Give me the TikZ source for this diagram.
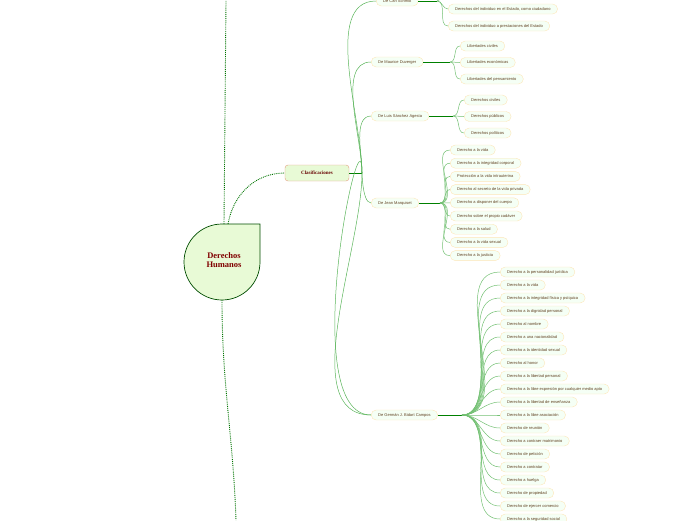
\documentclass[tikz,border=0pt]{standalone}
\usepackage{fontspec}
\setmainfont{Liberation Sans}
\newfontfamily\headfont{Liberation Serif}
\begin{document}
\begin{tikzpicture}[x=1pt,y=-1pt,
  leaf/.style={draw=yellow!30!orange!25, fill=green!4, rounded corners=5pt, anchor=west,
     minimum height=10pt, inner xsep=7pt, inner ysep=0pt, text=brown!50!black,
     font=\fontsize{4}{4.5}\selectfont},
  mid/.style={leaf},
  lk/.style={draw=green!55!black!55, line width=0.5pt},
  tk/.style={draw=green!50!black, line width=1pt}]
\useasboundingbox (0,0) rectangle (696,520);
\definecolor{cfill}{HTML}{E8FAD6}
% central
\path[draw=green!30!black, fill=cfill, line width=0.7pt]
  (222,224) -- (260,224) -- (260,262) arc(0:270:38) -- cycle;
\node[font=\headfont\bfseries\fontsize{8.5}{9.5}\selectfont, text=red!50!black, align=center] (c) at (224,260) {Derechos\\Humanos};
\coordinate (ct) at (224,224);
\coordinate (cb) at (222,300);
\coordinate (topend) at (226,0);
\coordinate (botend) at (236,520);
\draw[green!45!black, densely dotted, line width=0.9pt] (ct) -- (topend);
\draw[green!45!black, densely dotted, line width=0.9pt] (cb) to[out=-90,in=92] (botend);
\node[draw=brown!70!red!60, fill=cfill, rounded corners=3pt, minimum width=64pt, minimum height=16pt,
  font=\headfont\bfseries\fontsize{5}{6}\selectfont, text=red!40!black, inner xsep=4pt] (cl) at (317,173) {Clasificaciones};
\draw[green!45!black, densely dotted, line width=0.9pt] (228,224) to[out=80,in=180] (cl.west);
\coordinate (tr) at (362,173);
\draw[tk] (cl.east) -- (tr);
% level 2
\node[mid] (m1) at (376,1) {De Carl Schmitt};
\node[mid] (m2) at (371,62) {De Maurice Duverger};
\node[mid] (m3) at (371,116) {De Luis Sánchez Agesta};
\node[mid] (m4) at (371,203) {De Jean Marquiset};
\node[mid] (m5) at (371,415) {De Germán J. Bidart Campos};
\foreach \m in {m1,m2,m3,m4,m5}{\draw[lk, draw=green!55!black!65] (tr) to[out=90,in=180,looseness=0.8] (\m.west);}
\draw[lk, draw=green!55!black!65] (tr) to[out=-90,in=180,looseness=0.8] (m5.west);
% Carl Schmitt
\coordinate (b1) at (437,1);
\draw[tk] (m1.east) -- (b1);
\node[leaf] (s1) at (448,9) {Derechos del individuo en el Estado, como ciudadano};
\node[leaf] (s2) at (448,26) {Derechos del individuo a prestaciones del Estado};
\coordinate (s0) at (448,-10);
\foreach \s in {s1,s2}{\draw[lk] (b1) to[out=0,in=180] (\s.west);}
\draw[lk] (b1) to[out=0,in=180] (s0);
% Duverger
\coordinate (b2) at (450,62);
\draw[tk] (m2.east) -- (b2);
\foreach \t [count=\i] in {Libertades civiles,Libertades económicas,Libertades del pensamiento}{
  \node[leaf] (d\i) at (460,{46+16.5*(\i-1)}) {\t};
  \draw[lk] (b2) to[out=0,in=180] (d\i.west);}
% Sanchez Agesta
\coordinate (b3) at (453,116);
\draw[tk] (m3.east) -- (b3);
\foreach \t [count=\i] in {Derechos civiles,Derechos públicos,Derechos políticos}{
  \node[leaf] (a\i) at (464,{100+16.5*(\i-1)}) {\t};
  \draw[lk] (b3) to[out=0,in=180] (a\i.west);}
% Marquiset
\coordinate (b4) at (440,203);
\draw[tk] (m4.east) -- (b4);
\foreach \t [count=\i] in {Derecho a la vida,Derecho a la integridad corporal,Protección a la vida intrauterina,Derecho al secreto de la vida privada,Derecho a disponer del cuerpo,Derecho sobre el propio cadáver,Derecho a la salud,Derecho a la vida sexual,Derecho a la justicia}{
  \node[leaf] (j\i) at (450,{150+13.2*(\i-1)}) {\t};
  \draw[lk] (b4) to[out=0,in=180] (j\i.west);}
% Bidart Campos
\coordinate (b5) at (462,415);
\draw[tk] (m5.east) -- (b5);
\foreach \t [count=\i] in {Derecho a la personalidad jurídica,Derecho a la vida,Derecho a la integridad física y psíquica,Derecho a la dignidad personal,Derecho al nombre,Derecho a una nacionalidad,Derecho a la identidad sexual,Derecho al honor,Derecho a la libertad personal,Derecho a la libre expresión por cualquier medio apto,Derecho a la libertad de enseñanza,Derecho a la libre asociación,Derecho de reunión,Derecho a contraer matrimonio,Derecho de petición,Derecho a contratar,Derecho a huelga,Derecho de propiedad,Derecho de ejercer comercio,Derecho a la seguridad social}{
  \node[leaf] (g\i) at (500,{272+13*(\i-1)}) {\t};
  \draw[lk] (b5) to[out=0,in=180] (g\i.west);}
\end{tikzpicture}
\end{document}
